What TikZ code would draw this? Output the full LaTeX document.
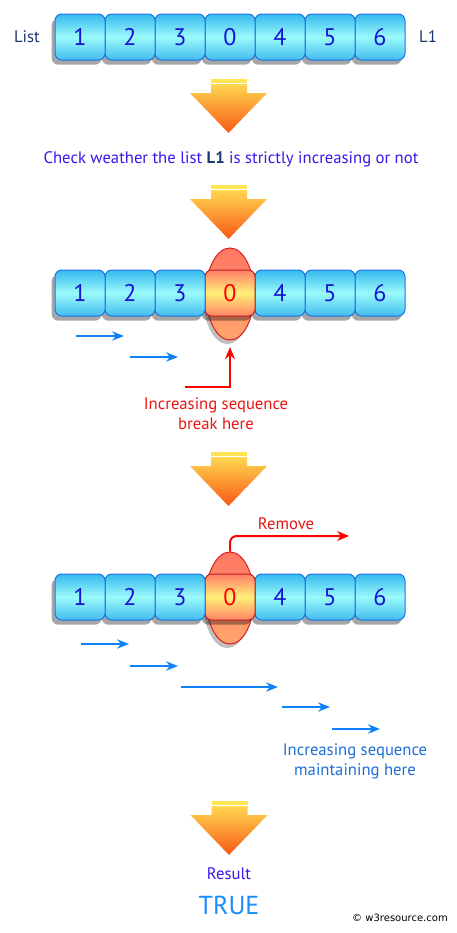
\documentclass[tikz,border=0pt]{standalone}
\usepackage{fontspec}
\setmainfont{PT Sans}
\newfontfamily\wfont{DejaVu Sans}
\usetikzlibrary{shadows,arrows.meta,shapes.geometric}
\definecolor{celltop}{RGB}{55,185,240}
\definecolor{cellmid}{RGB}{155,250,250}
\definecolor{cellbot}{RGB}{65,188,240}
\definecolor{cellborder}{RGB}{30,115,230}
\definecolor{digit}{RGB}{20,20,215}
\definecolor{hltop}{RGB}{255,125,105}
\definecolor{hlmid}{RGB}{255,240,120}
\definecolor{hlbot}{RGB}{255,130,100}
\definecolor{hlborder}{RGB}{190,30,30}
\definecolor{elltop}{RGB}{255,120,100}
\definecolor{ellbot}{RGB}{255,165,110}
\definecolor{ellborder}{RGB}{220,30,30}
\definecolor{navy}{RGB}{25,55,110}
\definecolor{violet}{RGB}{55,25,235}
\definecolor{redtxt}{RGB}{235,20,20}
\definecolor{bluetxt}{RGB}{30,110,215}
\definecolor{truecol}{RGB}{25,140,255}
\definecolor{arrowblue}{RGB}{15,130,250}
\definecolor{arrtop}{RGB}{255,215,80}
\definecolor{arrbot}{RGB}{248,88,20}
\definecolor{barcol}{RGB}{255,228,85}
\begin{document}
\begin{tikzpicture}[x=0.75pt,y=-0.75pt,
  cell/.style={draw=cellborder, line width=0.75pt, rounded corners=5pt,
    minimum width=37.5pt, minimum height=34.5pt, inner sep=0pt,
    top color=celltop, bottom color=cellbot, middle color=cellmid,
    text=digit, font=\fontsize{18}{20}\selectfont,
    drop shadow={shadow xshift=-2.5pt, shadow yshift=-3.5pt, fill=black, opacity=0.35}},
  hlcell/.style={cell, draw=hlborder, top color=hltop, bottom color=hlbot, middle color=hlmid, text=red},
  hlell/.style={ellipse, draw=ellborder, line width=0.75pt, minimum width=36pt, minimum height=69pt,
    inner sep=0pt, top color=elltop, bottom color=ellbot,
    drop shadow={shadow xshift=-2pt, shadow yshift=-3pt, fill=black, opacity=0.25}},
  lbl/.style={font=\fontsize{12.5}{14}\selectfont, inner sep=0pt},
  barrow/.style={draw=arrowblue, line width=2pt, -{Stealth[length=9pt,width=7pt,inset=3pt]}},
  rarrow/.style={draw=red, line width=1.5pt, -{Stealth[length=9pt,width=7.5pt,inset=3pt]}},
  darrow/.pic={
    \fill[barcol] (-17,0) rectangle (19,4);
    \shade[top color=arrtop, bottom color=arrbot] (-17,5) -- (19,5) -- (19,14) -- (39,14) -- (0.5,54) -- (-38,14) -- (-17,14) -- cycle;
  }]
\useasboundingbox (0,0) rectangle (457,933);
\fill[white] (0,0) rectangle (457,933);

% Row 1
\node[cell] (a7) at (380,37) {6};
\node[cell] (a6) at (330,37) {5};
\node[cell] (a5) at (280,37) {4};
\node[cell] (a4) at (230,37) {0};
\node[cell] (a3) at (180,37) {3};
\node[cell] (a2) at (130,37) {2};
\node[cell] (a1) at (80,37) {1};
\node[lbl, text=navy] (list) at (27,37) {List};
\node[lbl, text=navy] (l1) at (428,37) {L1};

\pic at (228,79) {darrow};
\node[lbl, text=violet] (check) at (231,159) {Check weather the list \textcolor{navy}{\bfseries L1} is strictly increasing or not};
\pic at (228,185) {darrow};

% Row 2
\node[cell] (b7) at (380,293) {6};
\node[cell] (b6) at (330,293) {5};
\node[cell] (b5) at (280,293) {4};
\node[hlell] (e2) at (230,294) {};
\node[hlcell] (b4) at (230,293) {0};
\node[cell] (b3) at (180,293) {3};
\node[cell] (b2) at (130,293) {2};
\node[cell] (b1) at (80,293) {1};

\coordinate (s1) at (76,336);  \coordinate (t1) at (124,336);
\coordinate (s2) at (130,357); \coordinate (t2) at (178,357);
\draw[barrow] (s1) -- (t1);
\draw[barrow] (s2) -- (t2);

\coordinate (rs) at (185,387);
\draw[rarrow, shorten >=5pt] (rs) -| (e2.south);
\node[lbl, text=redtxt, align=center] (brk) at (216,414) {Increasing sequence\\[1pt]break here};

\pic at (228,452) {darrow};

% Row 3
\node[cell] (c7) at (380,597) {6};
\node[cell] (c6) at (330,597) {5};
\node[cell] (c5) at (280,597) {4};
\node[hlell] (e3) at (230,598) {};
\node[hlcell] (c4) at (230,597) {0};
\node[cell] (c3) at (180,597) {3};
\node[cell] (c2) at (130,597) {2};
\node[cell] (c1) at (80,597) {1};

\coordinate (rm) at (349,536);
\draw[rarrow, rounded corners=5pt] (e3.north) |- (rm);
\node[lbl, text=redtxt] (remove) at (286,524) {Remove};

\coordinate (u1) at (81,644);  \coordinate (v1) at (129,644);
\coordinate (u2) at (130,666); \coordinate (v2) at (178,666);
\coordinate (u3) at (181,687); \coordinate (v3) at (278,687);
\coordinate (u4) at (282,707); \coordinate (v4) at (330,707);
\coordinate (u5) at (332,729); \coordinate (v5) at (380,729);
\draw[barrow] (u1) -- (v1);
\draw[barrow] (u2) -- (v2);
\draw[barrow] (u3) -- (v3);
\draw[barrow] (u4) -- (v4);
\draw[barrow] (u5) -- (v5);
\node[lbl, text=bluetxt, align=center] (keep) at (355,761) {Increasing sequence\\[1pt]maintaining here};

\pic at (228.5,801) {darrow};
\node[lbl, text=violet] (result) at (229,874) {Result};
\node[font=\fontsize{19.5}{22}\selectfont, text=truecol, inner sep=0pt] (true) at (229,905) {TRUE};
\node[font=\wfont\fontsize{7.5}{9}\selectfont, inner sep=0pt] (w3) at (400,918) {© w3resource.com};
\end{tikzpicture}
\end{document}
